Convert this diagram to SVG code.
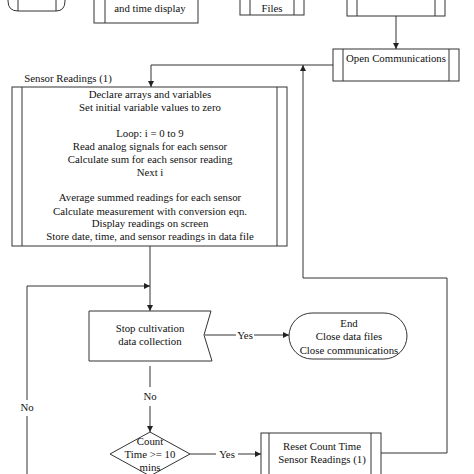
<svg xmlns="http://www.w3.org/2000/svg" width="474" height="474" viewBox="0 0 474 474">
<defs>
<style>
.s{fill:none;stroke:#333;stroke-width:1}
.b{fill:#fff;stroke:#333;stroke-width:1}
.t{font-family:"Liberation Serif","Times New Roman",serif;font-size:10.8px;fill:#111;text-anchor:middle}
</style>
<marker id="ah" viewBox="0 0 10 10" refX="10" refY="5" markerWidth="6" markerHeight="6" orient="auto" markerUnits="userSpaceOnUse">
<path d="M0,0 L10,5 L0,10 z" fill="#222"/>
</marker>
</defs>
<rect width="474" height="474" fill="#fff"/>

<g id="n-top1">
<path class="s" d="M8,-5 L8,1 Q8,11 18,11 L56,11 Q65,11 65,1 L65,-5"/>
<path class="s" d="M18,-5 V11 M56,-5 V11"/>
</g>
<g id="n-top2">
<rect class="b" x="94" y="-10" width="104" height="33"/>
<line class="s" x1="105" y1="-10" x2="105" y2="23"/>
<text class="t" x="150" y="12">and time display</text>
</g>
<g id="n-files">
<rect class="b" x="240" y="-10" width="64" height="25"/>
<path class="s" d="M250,-10 V15 M294,-10 V15"/>
<text class="t" x="272" y="12">Files</text>
</g>
<g id="n-top4">
<rect class="b" x="347" y="-10" width="98" height="26"/>
<path class="s" d="M357,-10 V16 M435,-10 V16"/>
</g>

<g id="n-open">
<rect class="b" x="333" y="49" width="126" height="32"/>
<path class="s" d="M343,49 V81 M449,49 V81"/>
<text class="t" x="396" y="62">Open Communications</text>
</g>

<g id="n-sensor">
<text class="t" x="68" y="82">Sensor Readings (1)</text>
<rect class="b" x="12" y="87" width="275" height="159"/>
<path class="s" d="M22,87 V246 M277,87 V246"/>
<text class="t" x="150" y="98">Declare arrays and variables</text>
<text class="t" x="150" y="111">Set initial  variable values to zero</text>
<text class="t" x="150" y="137">Loop: i = 0 to 9</text>
<text class="t" x="150" y="150">Read analog signals for each sensor</text>
<text class="t" x="150" y="163">Calculate sum for each sensor reading</text>
<text class="t" x="150" y="176">Next i</text>
<text class="t" x="150" y="201">Average summed readings for  each sensor</text>
<text class="t" x="150" y="215">Calculate measurement with conversion eqn.</text>
<text class="t" x="150" y="227">Display readings on screen</text>
<text class="t" x="150" y="240">Store date, time, and sensor readings in data file</text>
</g>

<g id="n-stop">
<path class="b" d="M89,311 L211,311 L204,335 L212,361 L89,361 Z"/>
<text class="t" x="150" y="332">Stop  cultivation</text>
<text class="t" x="150" y="345">data collection</text>
</g>

<g id="n-end">
<rect class="b" x="289" y="313" width="118" height="46" rx="23" ry="23"/>
<text class="t" x="349" y="327">End</text>
<text class="t" x="349" y="340">Close data files</text>
<text class="t" x="349" y="354">Close communications</text>
</g>

<g id="n-count">
<path class="b" d="M150,432 L190,454 L150,476 L110,454 Z"/>
<text class="t" x="150" y="445">Count</text>
<text class="t" x="150" y="458">Time &gt;= 10</text>
<text class="t" x="150" y="471">mins</text>
</g>

<g id="n-reset">
<rect class="b" x="261" y="433" width="120" height="50"/>
<path class="s" d="M269,433 V483 M371,433 V483"/>
<text class="t" x="322" y="450">Reset Count Time</text>
<text class="t" x="322" y="463">Sensor Readings (1)</text>
</g>

<g id="connectors">
<line class="s" x1="396" y1="16" x2="396" y2="49" marker-end="url(#ah)"/>
<path class="s" d="M333,65 H151 V87" marker-end="url(#ah)"/>
<line class="s" x1="150" y1="246" x2="150" y2="311" marker-end="url(#ah)"/>
<path class="s" d="M27,474 V416 M27,400 V286 H150" marker-end="url(#ah)"/>
<text class="t" x="27" y="411">No</text>
<line class="s" x1="205" y1="335" x2="236" y2="335"/>
<text class="t" x="245" y="339">Yes</text>
<line class="s" x1="254" y1="335" x2="289" y2="335" marker-end="url(#ah)"/>
<line class="s" x1="150" y1="366" x2="150" y2="387"/>
<text class="t" x="150" y="400">No</text>
<line class="s" x1="150" y1="406" x2="150" y2="432" marker-end="url(#ah)"/>
<line class="s" x1="190" y1="454" x2="216" y2="454"/>
<text class="t" x="227" y="458">Yes</text>
<line class="s" x1="238" y1="454" x2="261" y2="454" marker-end="url(#ah)"/>
<path class="s" d="M381,453 H447 V278 H303 V65" marker-end="url(#ah)"/>
</g>
</svg>
